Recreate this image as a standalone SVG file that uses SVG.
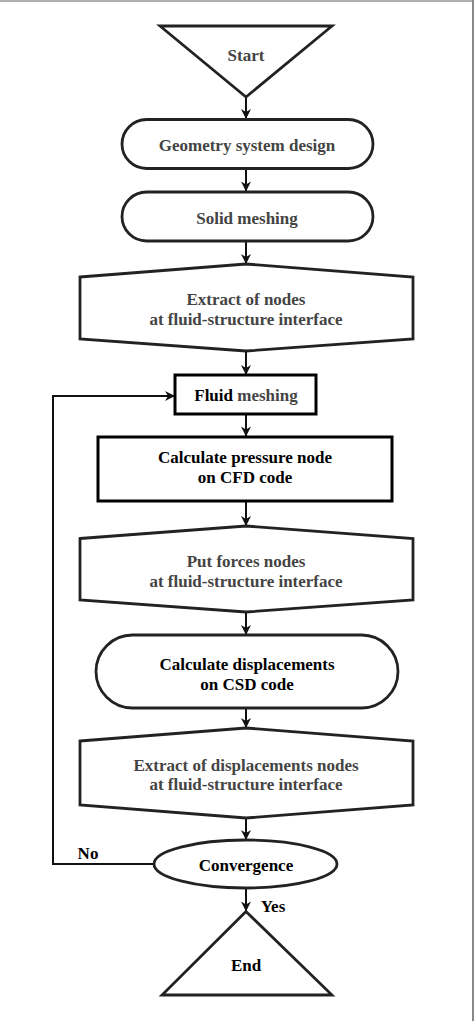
<svg xmlns="http://www.w3.org/2000/svg" width="474" height="1021" viewBox="0 0 474 1021">
<style>
.s{fill:#fff;stroke:#222;stroke-width:2.8;stroke-linejoin:miter}
.t{font-family:"Liberation Serif","Times New Roman",serif;font-weight:bold;font-size:17px;text-anchor:middle;dominant-baseline:central}
.g{fill:#444}
.k{fill:#000}
.c{fill:none;stroke:#111;stroke-width:2}
</style>
<defs>
<marker id="ah" viewBox="0 0 10 10" markerUnits="userSpaceOnUse" markerWidth="11" markerHeight="10" refX="10" refY="5" orient="auto">
<path d="M0,0 L10,5 L0,10 L3,5 z" fill="#111"/>
</marker>
</defs>
<rect x="0" y="0" width="474" height="2" fill="#b0b0b0"/>
<rect x="472" y="0" width="2" height="1021" fill="#888"/>

<g id="connectors">
<path class="c" d="M246,97 V119" marker-end="url(#ah)"/>
<path class="c" d="M246,168 V191.5" marker-end="url(#ah)"/>
<path class="c" d="M246,241 V264" marker-end="url(#ah)"/>
<path class="c" d="M246,351 V375" marker-end="url(#ah)"/>
<path class="c" d="M154,864 H53 V396 H175" marker-end="url(#ah)"/>
<path class="c" d="M246,414 V436.5" marker-end="url(#ah)"/>
<path class="c" d="M246,501 V526" marker-end="url(#ah)"/>
<path class="c" d="M246,612 V635" marker-end="url(#ah)"/>
<path class="c" d="M246,708 V728" marker-end="url(#ah)"/>
<path class="c" d="M246,818 V840" marker-end="url(#ah)"/>
<path class="c" d="M246,888 V911.5" marker-end="url(#ah)"/>
<text class="t k" x="88" y="853">No</text>
<text class="t k" x="273" y="906">Yes</text>
</g>

<g id="start">
<polygon class="s" points="160,26 332,26 246,97"/>
<text class="t g" x="246" y="55">Start</text>
</g>

<g id="geometry">
<rect class="s" x="122" y="119.5" width="251" height="49" rx="24.5"/>
<text class="t g" x="247" y="145">Geometry system design</text>
</g>

<g id="solid">
<rect class="s" x="122" y="192" width="251" height="49" rx="24.5"/>
<text class="t g" x="247" y="218">Solid meshing</text>
</g>

<g id="extract-nodes">
<polygon class="s" points="80,277 246,264 413,277 413,339 246,351 80,339"/>
<text class="t g" x="246" y="299">Extract of nodes</text>
<text class="t g" x="246" y="319">at fluid-structure interface</text>
</g>

<g id="fluid">
<rect class="s" x="175" y="375" width="141" height="39" stroke="#000" style="stroke:#000;stroke-width:3"/>
<text class="t" x="246" y="395"><tspan class="k">Fluid</tspan> <tspan class="g">meshing</tspan></text>
</g>

<g id="pressure">
<rect class="s" x="98" y="437" width="294" height="64" style="stroke:#000;stroke-width:3"/>
<text class="t k" x="245" y="457">Calculate pressure node</text>
<text class="t k" x="245" y="477">on CFD code</text>
</g>

<g id="forces">
<polygon class="s" points="80,538.5 246,526 413,538.5 413,600 246,612 80,600"/>
<text class="t g" x="246" y="561">Put forces nodes</text>
<text class="t g" x="246" y="581">at fluid-structure interface</text>
</g>

<g id="displacements">
<rect class="s" x="96" y="635" width="302" height="73" rx="36.5"/>
<text class="t k" x="247" y="664">Calculate displacements</text>
<text class="t k" x="247" y="684">on CSD code</text>
</g>

<g id="extract-displacements">
<polygon class="s" points="80,741 246,728 413,741 413,805 246,818 80,805"/>
<text class="t g" x="246" y="765">Extract of displacements nodes</text>
<text class="t g" x="246" y="784">at fluid-structure interface</text>
</g>

<g id="convergence">
<ellipse class="s" cx="245.5" cy="864" rx="91.5" ry="24"/>
<text class="t k" x="246" y="865">Convergence</text>
</g>

<g id="end">
<polygon class="s" points="246,911.5 332,995 162,995"/>
<text class="t k" x="246" y="965">End</text>
</g>
</svg>
